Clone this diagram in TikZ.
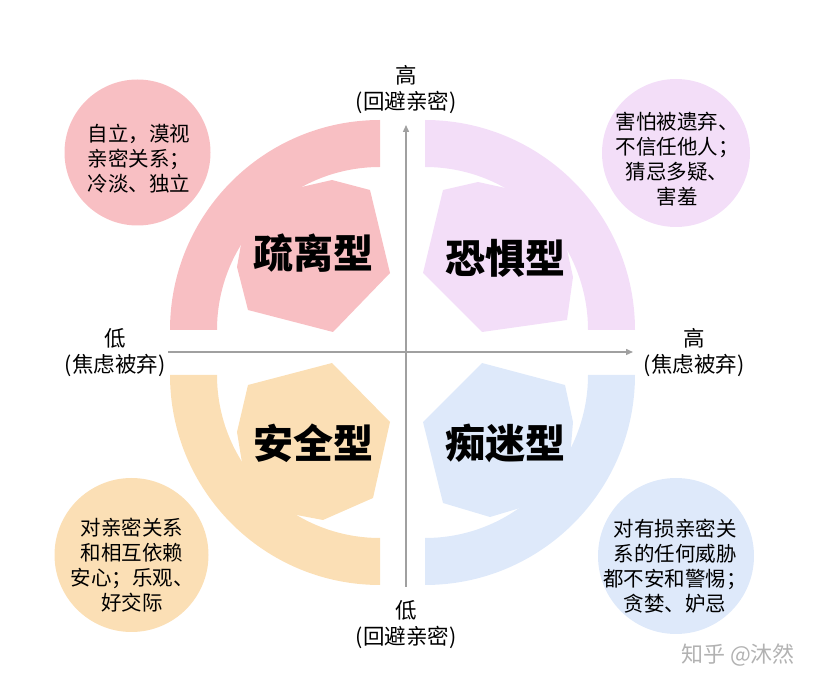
\documentclass[tikz,border=0pt]{standalone}
\usepackage{fontspec}
\setmainfont{Noto Sans CJK SC}
\usepackage{tikz}
\usepackage{xcolor}
\usetikzlibrary{arrows.meta}

\definecolor{pinkq}{RGB}{248,191,195}
\definecolor{purpleq}{RGB}{243,222,248}
\definecolor{yellowq}{RGB}{251,223,181}
\definecolor{blueq}{RGB}{222,233,250}
\definecolor{axisgray}{RGB}{160,160,160}

\begin{document}
\begin{tikzpicture}[x=1pt, y=1pt,
		axis/.style={draw=axisgray, line width=1.4pt, -{Triangle[length=7pt, width=6pt]}},
		axislabel/.style={align=center, font=\fontsize{21.5}{26}\selectfont},
		typelabel/.style={font=\fontsize{40}{40}\selectfont\bfseries},
		note/.style={align=center, font=\fontsize{20.5}{25}\selectfont}]
		\useasboundingbox (0, 0) rectangle (823, 689);
		% quadrants: ring + polygon
		\fill[pinkq] (380, 569) arc[start angle=90, end angle=180, radius=210] -- (217, 359) arc[start angle=180, end angle=90, radius=163] -- cycle;
		\fill[pinkq] (332, 509) -- (370, 499) -- (390, 416) -- (333, 357) -- (248, 379) -- (237, 422) -- (249, 490) -- cycle;
		\fill[purpleq] (425, 569) arc[start angle=90, end angle=0, radius=210] -- (588, 359) arc[start angle=0, end angle=90, radius=163] -- cycle;
		\fill[purpleq] (478, 507) -- (443, 499) -- (423, 416) -- (482, 357) -- (567, 369) -- (573, 412) -- (556, 490) -- cycle;
		\fill[yellowq] (170, 314) arc[start angle=180, end angle=270, radius=210] -- (380, 151) arc[start angle=270, end angle=180, radius=163] -- cycle;
		\fill[yellowq] (248, 304) -- (332, 326) -- (390, 267) -- (373, 191) -- (323, 169) -- (249, 183) -- (237, 257) -- cycle;
		\fill[blueq] (635, 314) arc[start angle=0, end angle=-90, radius=210] -- (425, 151) arc[start angle=-90, end angle=0, radius=163] -- cycle;
		\fill[blueq] (423, 267) -- (482, 326) -- (565, 304) -- (573, 267) -- (567, 195) -- (490, 172) -- (443, 186) -- cycle;
		% axes
		\coordinate (xlow) at (168, 337);
		\coordinate (xhigh) at (633, 337);
		\coordinate (ylow) at (406, 102);
		\coordinate (yhigh) at (406, 564);
		\draw[axis] (xlow) -- (xhigh);
		\draw[axis] (ylow) -- (yhigh);
		\node[axislabel] (avoidhigh) at (406, 599) {高\\(回避亲密)};
		\node[axislabel] (avoidlow) at (406, 64) {低\\(回避亲密)};
		\node[axislabel] (anxlow) at (115, 336) {低\\(焦虑被弃)};
		\node[axislabel] (anxhigh) at (694, 336) {高\\(焦虑被弃)};
		% type names
		\node[typelabel] (dismissing) at (313, 436) {疏离型};
		\node[typelabel] (fearful) at (505, 431) {恐惧型};
		\node[typelabel] (secure) at (313, 246) {安全型};
		\node[typelabel] (preoccupied) at (505, 246) {痴迷型};
		% notes
		\fill[pinkq] (137.5, 536.5) circle[radius=73];
		\fill[purpleq] (676, 536) circle[radius=74];
		\fill[yellowq] (131.5, 134) circle[radius=77];
		\fill[blueq] (676, 133) circle[radius=78];
		\node[note] (dismissingnote) at (139, 530) {自立，漠视\\亲密关系；\\冷淡、独立};
		\node[note] (fearfulnote) at (677, 529.5) {害怕被遗弃、\\不信任他人；\\猜忌多疑、\\害羞};
		\node[note] (securenote) at (132, 123.5) {对亲密关系\\和相互依赖\\安心；乐观、\\好交际};
		\node[note] (preoccupiednote) at (675, 122.5) {对有损亲密关\\系的任何威胁\\都不安和警惕；\\贪婪、妒忌};
		\node[text=black!30, font=\fontsize{22}{22}\selectfont] (mark) at (738, 34) {知乎 @沐然};
	\end{tikzpicture}
\end{document}
